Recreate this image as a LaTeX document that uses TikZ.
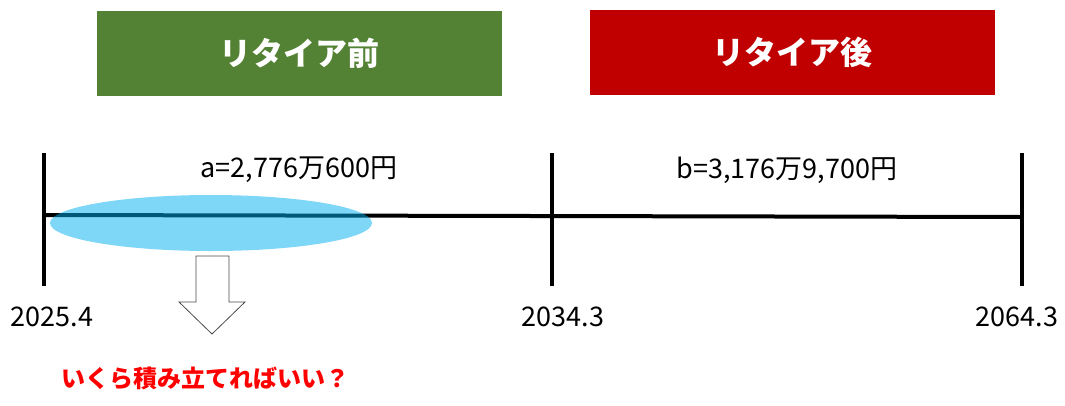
\documentclass[tikz,border=0pt]{standalone}
\usepackage{fontspec}
\setmainfont{Noto Sans CJK JP}
\usetikzlibrary{shapes.geometric,shapes.arrows}
\definecolor{pgreen}{HTML}{548235}
\definecolor{pred}{HTML}{C00000}
\definecolor{pblue}{HTML}{00B0F0}
\begin{document}
\begin{tikzpicture}[x=1pt,y=-1pt,
  titlebox/.style={minimum width=405pt,minimum height=85pt,inner sep=0pt,text=white,font=\fontsize{32}{32}\selectfont\bfseries},
  tick/.style={line width=4pt},
  axis/.style={line width=4pt},
  yearlbl/.style={font=\fontsize{27}{27}\selectfont,inner sep=0pt},
  amt/.style={font=\fontsize{27}{27}\selectfont,inner sep=0pt}]
\useasboundingbox (0,0) rectangle (1065,405);
\node[titlebox,fill=pgreen] (pre) at (299.5,53.5) {リタイア前};
\node[titlebox,fill=pred] (post) at (792.5,52.5) {リタイア後};
\coordinate (t0) at (44,215);
\coordinate (t2) at (1022,217);
\draw[axis] (t0) -- (t2);
\draw[tick] (44,153) -- (44,286);
\draw[tick] (552,153) -- (552,286);
\draw[tick] (1022,153) -- (1022,286);
\node[ellipse,fill=pblue,fill opacity=0.5,minimum width=322pt,minimum height=56pt,inner sep=0pt] (ell) at (211,223) {};
\node[yearlbl] (y0) at (52,317) {2025.4};
\node[yearlbl] (y1) at (563,317) {2034.3};
\node[yearlbl] (y2) at (1017,317) {2064.3};
\node[amt] (a) at (299,170) {a=2,776万600円};
\node[amt] (b) at (787,170) {b=3,176万9,700円};
\draw[line width=0.8pt,draw=black!70,fill=white] (196,256) -- (229,256) -- (229,302) -- (245,302) -- (212,334) -- (179,302) -- (196,302) -- cycle;
\node[font=\fontsize{24}{24}\selectfont\bfseries,text={red},inner sep=0pt] (q) at (205,378) {いくら積み立てればいい？};
\end{tikzpicture}
\end{document}
